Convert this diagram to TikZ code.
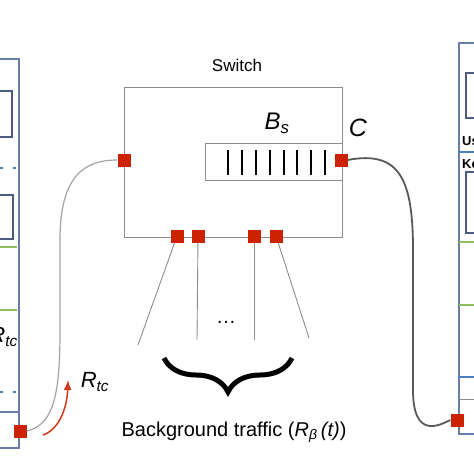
\documentclass[tikz,border=0pt]{standalone}
\usepackage{fontspec}
\setmainfont{Liberation Sans}
\usetikzlibrary{decorations.pathreplacing, arrows.meta}
\definecolor{portred}{HTML}{CC2200}
\definecolor{framegray}{HTML}{8C8C8C}
\definecolor{hostblue}{HTML}{6A7CAB}
\definecolor{boxblue}{HTML}{4C5B82}
\definecolor{layerblue}{HTML}{4A7FC0}
\definecolor{layergreen}{HTML}{8CC060}
\begin{document}
\begin{tikzpicture}[x=1pt, y=-1pt]

      \tikzset{
        port/.style={
          fill=portred,
          minimum size=13pt,
          inner sep=0pt,
        },
        frame/.style={
          draw=framegray,
          line width=1pt,
        },
        host/.style={
          draw=hostblue,
          line width=1.2pt,
        },
        inner box/.style={
          draw=boxblue,
          line width=1.2pt,
        },
        layer/.style={
          draw=layerblue,
          line width=2pt,
        },
        level/.style={
          draw=layergreen,
          line width=1.2pt,
        },
        feed/.style={
          draw=framegray,
          line width=0.9pt,
        },
        label/.style={
          inner sep=0pt,
          font=\fontsize{22}{24}\selectfont\itshape,
        },
      }

      \useasboundingbox (0,0) rectangle (474,474);
      \clip (0,0) rectangle (474,474);

      % left host
      \draw[host] (-5,59) -- (19,59) -- (19,448) -- (-5,448);
      \draw[host] (-5,412) -- (19,412);
      \draw[inner box] (-5,91) rectangle (12,137);
      \draw[inner box] (-5,195) rectangle (13,239);
      \foreach \y in {168,392} {
        \draw[layer, dash pattern=on 3pt off 10pt] (0,\y) -- (19,\y);
      }
      \foreach \y in {247,310} {
        \draw[level] (0,\y) -- (17,\y);
      }
      \node[label, anchor=east] (rtc left) at (18,337) {R\textsubscript{tc}};
      \node[port] (host out) at (20,431) {};

      % switch
      \node[font=\fontsize{17}{19}\selectfont] (switch label) at (237,65) {Switch};
      \draw[frame] (124,87) rectangle (342,237);
      \draw[frame] (205,143) rectangle (342,180);
      \foreach \x in {228,242,256,270,284,297,311,325} {
        \draw[line width=1.3pt] (\x,150) -- (\x,175);
      }
      \node[label, font=\fontsize{24}{26}\selectfont\itshape] (buffer label) at (277,123) {B\textsubscript{s}};
      \node[label, font=\fontsize{25}{27}\selectfont\itshape] (rate label) at (358,128) {C};
      \node[port] (sw in) at (124,160) {};
      \node[port] (sw out) at (341,160) {};

      % background traffic
      \foreach \i/\x/\ex/\ey in {1/177/138/345,2/198/197/340,3/254/254/340,4/276/309/338} {
        \node[port] (bg \i) at (\x,236) {};
        \coordinate (bg end \i) at (\ex,\ey);
        \draw[feed] (bg \i) -- (bg end \i);
      }
      \node[font=\fontsize{20}{22}\selectfont] (dots) at (226,322) {\dots};
      \coordinate (brace right) at (292,358);
      \coordinate (brace left) at (164,358);
      \draw[line width=5pt, decorate,
        decoration={brace, amplitude=34pt}] (brace right) -- (brace left);
      \node[font=\fontsize{20}{22}\selectfont] (bg label) at (234,432)
        {Background traffic (\textit{R\textsubscript{β}\,(t)})};

      % right host
      \draw[host] (480,43) -- (459,43) -- (459,434) -- (480,434);
      \draw[frame] (459,399) -- (480,399);
      \draw[inner box] (466,73) rectangle (480,118);
      \draw[inner box] (466,172) rectangle (480,233);
      \node[anchor=west, inner sep=0pt, font=\fontsize{13}{14}\selectfont\bfseries] (user) at (462,141) {User};
      \node[anchor=west, inner sep=0pt, font=\fontsize{13}{14}\selectfont\bfseries] (kernel) at (462,164) {Kernel};
      \foreach \y in {152,377} {
        \draw[layer] (459,\y) -- (480,\y);
      }
      \foreach \y in {242,305} {
        \draw[level] (459,\y) -- (480,\y);
      }
      \node[port] (rx in) at (457,420) {};

      % links
      \draw[draw=framegray!80, line width=1.2pt] (host out.east)
        .. controls (55,425) and (60,390) .. (60,330)
        -- (60,240)
        .. controls (60,175) and (85,160) .. (sw in.west);
      \draw[draw=black!65, line width=1.8pt] (sw out.east)
        .. controls (400,150) and (413,180) .. (413,250)
        -- (413,390)
        .. controls (413,440) and (440,425) .. (rx in.west);

      \coordinate (rate tail) at (43,435);
      \coordinate (rate head) at (68,380);
      \draw[draw=portred!90, line width=1.5pt, -{Latex[length=10pt, width=8pt]}] (rate tail)
        .. controls (58,430) and (67,410) .. (rate head);
      \node[label] (rtc) at (95,382) {R\textsubscript{tc}};

    \end{tikzpicture}
\end{document}
